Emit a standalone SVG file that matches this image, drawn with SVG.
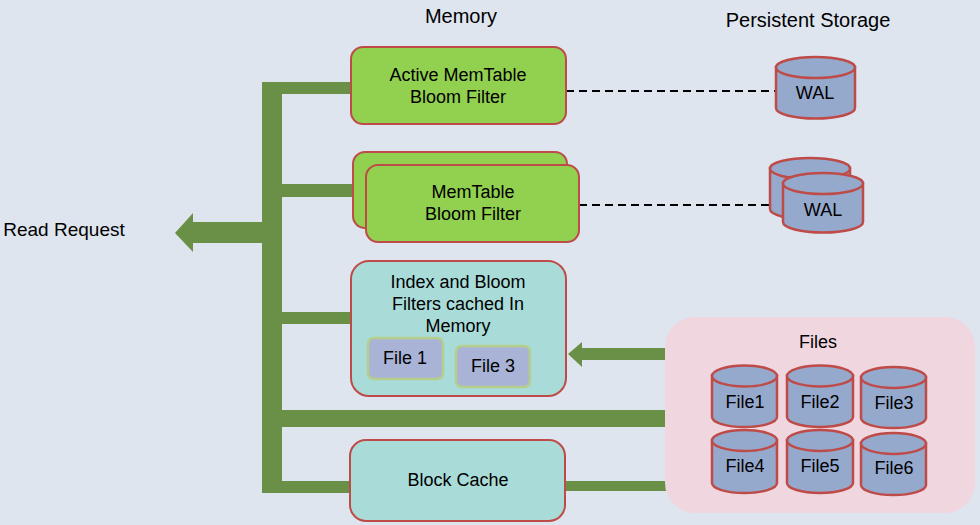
<svg xmlns="http://www.w3.org/2000/svg" width="980" height="525" viewBox="0 0 980 525">
<style>
text{font-family:"Liberation Sans",Arial,sans-serif;fill:#000;text-anchor:middle}
.hdr{font-size:20px}
.rr{font-size:19px}
.t{font-size:18px}
.bar{fill:#6A8F46}
.gbox{fill:#92D050;stroke:#BE4B48;stroke-width:2}
.tbox{fill:#A9DCD8;stroke:#BE4B48;stroke-width:2}
.fbox{fill:#A8B3D6;stroke:#B6CE8C;stroke-width:2.5}
.cyl{fill:#95A9CD;stroke:#BE4B48;stroke-width:2.5}
.dash{stroke:#000;stroke-width:2;stroke-dasharray:8 5;fill:none}
</style>
<rect width="980" height="525" fill="#DEE5EF"/>

<text class="hdr" x="461" y="23">Memory</text>
<text class="hdr" x="808" y="27">Persistent Storage</text>
<text class="rr" x="64" y="236">Read Request</text>

<g id="connectors">
  <rect class="bar" x="262" y="82" width="20" height="411"/>
  <rect class="bar" x="282" y="82" width="70" height="12"/>
  <rect class="bar" x="282" y="184" width="72" height="13"/>
  <rect class="bar" x="282" y="312" width="70" height="12"/>
  <rect class="bar" x="282" y="410" width="384" height="17"/>
  <rect class="bar" x="282" y="481" width="69" height="12"/>
  <rect class="bar" x="565" y="481" width="101" height="10"/>
  <polygon class="bar" points="262,222 193,222 193,213 175,233 193,252 193,243 262,243"/>
  <polygon class="bar" points="666,348 582,348 582,342 568,354 582,367 582,360 666,360"/>
  <line class="dash" x1="566" y1="91" x2="776" y2="91"/>
  <line class="dash" x1="579" y1="205" x2="783" y2="205"/>
</g>

<g id="active-memtable">
  <rect class="gbox" x="351" y="47" width="215" height="77" rx="12"/>
  <text class="t" x="458" y="81">Active MemTable</text>
  <text class="t" x="458" y="103">Bloom Filter</text>
</g>

<g id="memtable">
  <rect class="gbox" x="353" y="152" width="214" height="76" rx="12"/>
  <rect class="gbox" x="366" y="165" width="213" height="77" rx="12"/>
  <text class="t" x="473" y="198">MemTable</text>
  <text class="t" x="473" y="220">Bloom Filter</text>
</g>

<g id="index-bloom">
  <rect class="tbox" x="351" y="261" width="215" height="135" rx="18"/>
  <text class="t" x="458" y="288">Index and Bloom</text>
  <text class="t" x="458" y="310">Filters cached In</text>
  <text class="t" x="458" y="332">Memory</text>
  <g id="file-1-cached">
    <rect class="fbox" x="368" y="338" width="75" height="41" rx="6"/>
    <text class="t" x="405" y="364">File 1</text>
  </g>
  <g id="file-3-cached">
    <rect class="fbox" x="456" y="346" width="74" height="41" rx="6"/>
    <text class="t" x="493" y="372">File 3</text>
  </g>
</g>

<g id="block-cache">
  <rect class="tbox" x="350" y="440" width="215" height="81" rx="16"/>
  <text class="t" x="458" y="486">Block Cache</text>
</g>

<g id="wal-1">
  <path class="cyl" d="M776,67 V108 A39.5,10.5 0 0 0 855,108 V67 Z"/>
  <ellipse class="cyl" cx="815.5" cy="67.5" rx="39.5" ry="10.5"/>
  <text class="t" x="815" y="99">WAL</text>
</g>

<g id="wal-2">
  <path class="cyl" d="M770,168 V209 A40,10.5 0 0 0 850,209 V168 Z"/>
  <ellipse class="cyl" cx="810" cy="168.5" rx="40" ry="10.5"/>
  <path class="cyl" d="M783,183 V222 A40,10.5 0 0 0 863,222 V183 Z"/>
  <ellipse class="cyl" cx="823" cy="183.5" rx="40" ry="10.5"/>
  <text class="t" x="823" y="216">WAL</text>
</g>

<g id="files">
  <rect x="665" y="317" width="310" height="196" rx="30" fill="#EFD6DF"/>
  <text class="t" x="818" y="348">Files</text>
  <g id="file1">
    <path class="cyl" d="M712,376 V417 A32.5,10 0 0 0 777,417 V376 Z"/>
    <ellipse class="cyl" cx="744.5" cy="376" rx="32.5" ry="10.5"/>
    <text class="t" x="745" y="408">File1</text>
  </g>
  <g id="file2">
    <path class="cyl" d="M787,376 V417 A33,10 0 0 0 853,417 V376 Z"/>
    <ellipse class="cyl" cx="820" cy="376" rx="33" ry="10.5"/>
    <text class="t" x="820" y="408">File2</text>
  </g>
  <g id="file3">
    <path class="cyl" d="M861,377 V418 A32.5,10 0 0 0 926,418 V377 Z"/>
    <ellipse class="cyl" cx="893.5" cy="377.5" rx="32.5" ry="10.5"/>
    <text class="t" x="894" y="409">File3</text>
  </g>
  <g id="file4">
    <path class="cyl" d="M712,440 V483 A32.5,10 0 0 0 777,483 V440 Z"/>
    <ellipse class="cyl" cx="744.5" cy="440.5" rx="32.5" ry="10.5"/>
    <text class="t" x="745" y="472">File4</text>
  </g>
  <g id="file5">
    <path class="cyl" d="M787,440 V483 A33,10 0 0 0 853,483 V440 Z"/>
    <ellipse class="cyl" cx="820" cy="440.5" rx="33" ry="10.5"/>
    <text class="t" x="820" y="472">File5</text>
  </g>
  <g id="file6">
    <path class="cyl" d="M861,443 V485 A32.5,10 0 0 0 926,485 V443 Z"/>
    <ellipse class="cyl" cx="893.5" cy="443.5" rx="32.5" ry="10.5"/>
    <text class="t" x="894" y="474">File6</text>
  </g>
</g>
</svg>
